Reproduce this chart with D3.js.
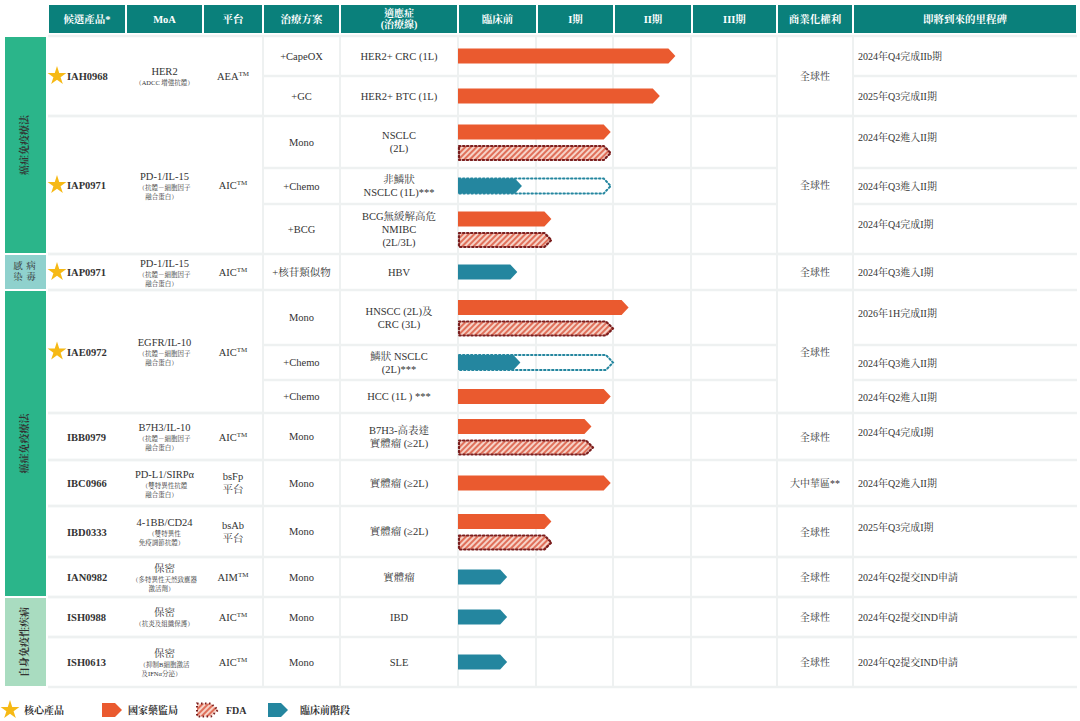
<!DOCTYPE html>
<html><head><meta charset="utf-8">
<script src="https://cdn.jsdelivr.net/npm/d3@7"></script>
<style>body{margin:0;background:#fff}svg{display:block}</style></head>
<body><svg id="c" width="1080" height="721"></svg>
<script>
// ---------- data ----------
const headers = ["候選產品*","MoA","平台","治療方案","適應症\n(治療線)","臨床前","I期","II期","III期","商業化權利","即將到來的里程碑"];
const stages = ["臨床前","I期","II期","III期"];
const candidates = [
 {name:"IAH0968",star:true,moa:"HER2",moaSub:["（ADCC 增強抗體）"],plat:"AEA™",rows:2},
 {name:"IAP0971",star:true,moa:"PD-1/IL-15",moaSub:["（抗體－細胞因子","融合蛋白）"],plat:"AIC™",rows:3},
 {name:"IAP0971",star:true,moa:"PD-1/IL-15",moaSub:["（抗體－細胞因子","融合蛋白）"],plat:"AIC™",rows:1},
 {name:"IAE0972",star:true,moa:"EGFR/IL-10",moaSub:["（抗體－細胞因子","融合蛋白）"],plat:"AIC™",rows:3},
 {name:"IBB0979",star:false,moa:"B7H3/IL-10",moaSub:["（抗體－細胞因子","融合蛋白）"],plat:"AIC™",rows:1},
 {name:"IBC0966",star:false,moa:"PD-L1/SIRPα",moaSub:["（雙特異性抗體","融合蛋白）"],plat:"bsFp\n平台",rows:1},
 {name:"IBD0333",star:false,moa:"4-1BB/CD24",moaSub:["（雙特異性","免疫調節抗體）"],plat:"bsAb\n平台",rows:1},
 {name:"IAN0982",star:false,moa:"保密",moaSub:["（多特異性天然致應器","激活劑）"],plat:"AIM™",rows:1},
 {name:"ISH0988",star:false,moa:"保密",moaSub:["（抗炎及組織保護）"],plat:"AIC™",rows:1},
 {name:"ISH0613",star:false,moa:"保密",moaSub:["（抑制B細胞激活","及IFNα分泌）"],plat:"AIC™",rows:1}
];
const regimens = ["+CapeOX","+GC","Mono","+Chemo","+BCG","+核苷類似物","Mono","+Chemo","+Chemo","Mono","Mono","Mono","Mono","Mono","Mono"];
const indications = ["HER2+ CRC (1L)","HER2+ BTC (1L)","NSCLC\n(2L)","非鱗狀\nNSCLC (1L)***","BCG無緩解高危\nNMIBC\n(2L/3L)","HBV","HNSCC (2L)及\nCRC (3L)","鱗狀 NSCLC\n(2L)***","HCC (1L ) ***","B7H3-高表達\n實體瘤 (≥2L)","實體瘤 (≥2L)","實體瘤 (≥2L)","實體瘤","IBD","SLE"];
// progress in stage units (0 = start of preclinical, 1 = end of preclinical, ...)
const nmpaValues = [2.8,2.6,1.97,null,1.2,null,2.2,null,1.97,1.72,1.97,1.2,null,null,null];
const fdaValues  = [null,null,1.97,null,1.2,null,2.0,null,null,1.74,null,1.2,null,null,null];
const preValues  = [null,null,null,0.82,null,0.76,null,0.8,null,null,null,null,0.63,0.63,0.63];
const plannedValues=[null,null,null,1.97,null,null,null,2.0,null,null,null,null,null,null,null];
const rights = [{t:"全球性",rows:2},{t:"全球性",rows:3},{t:"全球性",rows:1},{t:"全球性",rows:3},{t:"全球性",rows:1},{t:"大中華區**",rows:1},{t:"全球性",rows:1},{t:"全球性",rows:1},{t:"全球性",rows:1},{t:"全球性",rows:1}];
const milestones = ["2024年Q4完成IIb期","2025年Q3完成II期","2024年Q2進入II期","2024年Q3進入II期","2024年Q4完成I期","2024年Q3進入I期","2026年1H完成II期","2024年Q3進入II期","2024年Q2進入II期","2024年Q4完成I期","2024年Q2進入II期","2025年Q3完成I期","2024年Q2提交IND申請","2024年Q2提交IND申請","2024年Q2提交IND申請"];
const categories = [{t:"癌症免疫療法",rows:5,c:"#2bb58a"},{t:"病毒感染",rows:1,c:"#8fd1cd"},{t:"癌症免疫療法",rows:7,c:"#2bb58a"},{t:"自身免疫性疾病",rows:2,c:"#a9dcc0"}];
const legendItems = ["核心產品","國家藥監局","FDA","臨床前階段"];

// ---------- layout ----------
const rowH = [40,40,52,36,50,36,55,35,33,47,46,51,40,40,50];
const colX = [48,126,203,263,340,458,537,614,692,777,853,1077];
const top0 = 36, headH = 28, headY = 5;
const rowY = [top0]; rowH.forEach((h,i)=>rowY.push(rowY[i]+h));
const COL = {orange:"#ea5a2f",teal:"#24869f",head:"#0a807b",grid:"#eef1f1",dark:"#7b1e1e"};
const FS = "'Liberation Serif','Noto Serif CJK TC','Noto Sans CJK TC',serif";
const x = d3.scaleLinear().domain([0,1,2,3,4]).range([458,536,613,691,776]);

const svg = d3.select("#c");
const defs = svg.append("defs");
const pat = defs.append("pattern").attr("id","fda").attr("width",4).attr("height",4)
  .attr("patternUnits","userSpaceOnUse").attr("patternTransform","rotate(45)");
pat.append("rect").attr("width",4).attr("height",4).attr("fill","#f6d3c8");
pat.append("rect").attr("width",2).attr("height",4).attr("fill","#e0705a");

function multiText(g, txt, cx, cy, fs, opts={}){
  const lines = txt.split("\n"); const lh = opts.lh||fs*1.2;
  const t = g.append("text").attr("x",cx).attr("text-anchor",opts.anchor||"middle")
    .attr("font-family",opts.font||FS).attr("font-size",fs).attr("fill",opts.fill||"#333")
    .attr("font-weight",opts.weight||"normal");
  lines.forEach((l,i)=>t.append("tspan").attr("x",cx).attr("y",cy+(i-(lines.length-1)/2)*lh+fs*0.35).text(l));
  return t;
}

// header
headers.forEach((h,i)=>{
  const x0=colX[i]+1, x1=colX[i+1]-1;
  svg.append("rect").attr("x",x0).attr("y",headY).attr("width",x1-x0).attr("height",headH).attr("fill",COL.head);
  multiText(svg,h,(x0+x1)/2,headY+headH/2,h.includes("\n")?10:10.5,{fill:"#fff",weight:"bold",lh:11});
});

// stage column guides
const gGrid = svg.append("g");
[1,2,3].forEach(s=>gGrid.append("line").attr("x1",x(s)).attr("x2",x(s)).attr("y1",top0).attr("y2",rowY[15])
  .attr("stroke",COL.grid).attr("stroke-width",2));
[colX[3],colX[4],colX[5],colX[9],colX[10]].forEach(v=>gGrid.append("line").attr("x1",v).attr("x2",v).attr("y1",top0).attr("y2",rowY[15]).attr("stroke",COL.grid).attr("stroke-width",2));

// row separators per column group
function hline(x0,x1,y){gGrid.append("line").attr("x1",x0).attr("x2",x1).attr("y1",y).attr("y2",y).attr("stroke",COL.grid).attr("stroke-width",2.5);}
// per-row lines for regimen..III and milestones
rowY.forEach(y=>{hline(colX[3],colX[9],y);hline(colX[10],colX[11],y);});
// grouped lines
let r=0; candidates.forEach(c=>{hline(colX[0],colX[3],rowY[r]); r+=c.rows; hline(colX[0],colX[3],rowY[r]);});
r=0; rights.forEach(c=>{hline(colX[9],colX[10],rowY[r]); r+=c.rows; hline(colX[9],colX[10],rowY[r]);});

// categories
r=0; categories.forEach(c=>{
  const y0=rowY[r]+1, y1=rowY[r+c.rows]-1;
  svg.append("rect").attr("x",5).attr("y",y0).attr("width",41).attr("height",y1-y0).attr("fill",c.c);
  const t = svg.append("text").attr("transform",`translate(${28},${(y0+y1)/2}) rotate(-90)`)
    .attr("text-anchor","middle").attr("font-family",FS).attr("font-size",10).attr("fill","#333").attr("font-weight","bold").text(c.t);
  if(c.rows===1){ t.remove();
    const ch=c.t.split(""); const cy=(y0+y1)/2;
    [[ch[0],ch[1]],[ch[2],ch[3]]].forEach((col,ci)=>col.forEach((k,ki)=>svg.append("text").attr("x",21-ci*0+ (ci===0?10:-3)).attr("y",cy-3+ki*11).attr("text-anchor","middle").attr("font-family",FS).attr("font-size",9.5).attr("fill","#333").attr("writing-mode","horizontal-tb").text(k)));
  }
  r+=c.rows;
});

// candidates
r=0; candidates.forEach(c=>{
  const cy=(rowY[r]+rowY[r+c.rows])/2;
  if(c.star) svg.append("path").attr("d",d3.symbol(d3.symbolStar,110)()).attr("transform",`translate(57,${cy})`).attr("fill","#f6b915");
  svg.append("text").attr("x",67).attr("y",cy+4).attr("font-family",FS).attr("font-size",10.5).attr("font-weight","bold").attr("fill","#333").text(c.name);
  const mx=(colX[1]+colX[2])/2, n=c.moaSub.length;
  const top=cy-(11+n*9)/2;
  svg.append("text").attr("x",mx).attr("y",top+9).attr("text-anchor","middle").attr("font-family",FS).attr("font-size",10.5).attr("fill","#333").text(c.moa);
  c.moaSub.forEach((s,i)=>svg.append("text").attr("x",mx-(i>0?3:0)).attr("y",top+19+i*9).attr("text-anchor","middle").attr("font-family",FS).attr("font-size",6.5).attr("fill","#333").text(s));
  const px=(colX[2]+colX[3])/2;
  if(c.plat.includes("™")){
    const t=svg.append("text").attr("x",px).attr("y",cy+4).attr("text-anchor","middle").attr("font-family",FS).attr("font-size",10.5).attr("fill","#333");
    t.append("tspan").text(c.plat.replace("™",""));
    t.append("tspan").attr("font-size",7).attr("dy",-4).text("TM");
  } else multiText(svg,c.plat,px,cy,10.5,{lh:13});
  r+=c.rows;
});

// regimens, indications, milestones
regimens.forEach((t,i)=>{const cy=(rowY[i]+rowY[i+1])/2;
  multiText(svg,t,(colX[3]+colX[4])/2,cy,10.5);
  multiText(svg,indications[i],(colX[4]+colX[5])/2,cy,10.5,{lh:13});
  svg.append("text").attr("x",858).attr("y",cy+4-((i===2||i===4||i===6||i===9||i===11)?5:0)).attr("font-family",FS).attr("font-size",10).attr("fill","#333").text(milestones[i]);
});
r=0; rights.forEach(c=>{const cy=(rowY[r]+rowY[r+c.rows])/2;
  svg.append("text").attr("x",(colX[9]+colX[10])/2).attr("y",cy+4).attr("text-anchor","middle").attr("font-family",FS).attr("font-size",10).attr("fill","#333").text(c.t);
  r+=c.rows;});

// bars
function arrow(x0,x1,yc,h){const tip=7;return `M${x0},${yc-h/2}H${x1-tip}L${x1},${yc}L${x1-tip},${yc+h/2}H${x0}Z`;}
const bh=15;
rowH.forEach((h,i)=>{
  const cy=(rowY[i]+rowY[i+1])/2;
  const two = nmpaValues[i]!=null && fdaValues[i]!=null;
  const yN = two?cy-10:cy, yF = two?cy+11:cy;
  if(nmpaValues[i]!=null) svg.append("path").attr("d",arrow(x(0),x(nmpaValues[i]),yN,bh)).attr("fill",COL.orange);
  if(fdaValues[i]!=null) svg.append("path").attr("d",arrow(x(0)+1,x(fdaValues[i]),yF,bh-1)).attr("fill","url(#fda)")
     .attr("stroke",COL.dark).attr("stroke-width",2.2).attr("stroke-dasharray","1.5,2.5").attr("stroke-linecap","round").attr("stroke-linejoin","round");
  if(plannedValues[i]!=null) svg.append("path").attr("d",arrow(x(0)+1,x(plannedValues[i]),cy,bh)).attr("fill","none")
     .attr("stroke",COL.teal).attr("stroke-width",2).attr("stroke-dasharray","1.5,2.5").attr("stroke-linecap","round");
  if(preValues[i]!=null) svg.append("path").attr("d",arrow(x(0),x(preValues[i]),cy,bh)).attr("fill",COL.teal);
});

// legend
const ly=710;
svg.append("path").attr("d",d3.symbol(d3.symbolStar,110)()).attr("transform",`translate(10,${ly})`).attr("fill","#f6b915");
svg.append("text").attr("x",24).attr("y",ly+4).attr("font-family",FS).attr("font-size",10).attr("font-weight","bold").attr("fill","#333").text(legendItems[0]);
svg.append("path").attr("d",arrow(102,122,ly,14)).attr("fill",COL.orange);
svg.append("text").attr("x",128).attr("y",ly+4).attr("font-family",FS).attr("font-size",10).attr("font-weight","bold").attr("fill","#333").text(legendItems[1]);
svg.append("path").attr("d",arrow(197,218,ly,13)).attr("fill","url(#fda)").attr("stroke",COL.dark).attr("stroke-width",2).attr("stroke-dasharray","1.5,2.5");
svg.append("text").attr("x",226).attr("y",ly+4).attr("font-family",FS).attr("font-size",10).attr("font-weight","bold").attr("fill","#333").text(legendItems[2]);
svg.append("path").attr("d",arrow(268,288,ly,14)).attr("fill",COL.teal);
svg.append("text").attr("x",300).attr("y",ly+4).attr("font-family",FS).attr("font-size",10).attr("font-weight","bold").attr("fill","#333").text(legendItems[3]);
</script></body></html>
